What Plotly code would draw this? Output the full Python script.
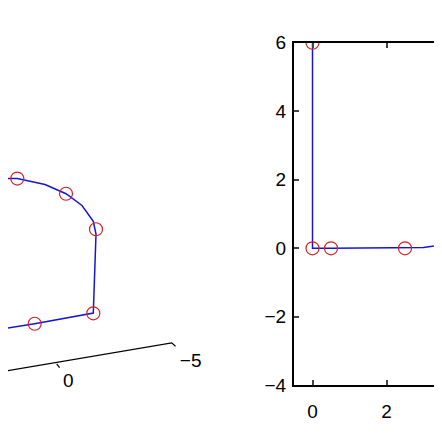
import plotly.graph_objects as go

# right panel: planar path (x, y)
path_x = [0, 0, 0.5, 2.5, 3.0, 3.6]
path_y = [6, 0, 0, 0, 0.02, 0.12]
way_x = [0, 0, 0.5, 2.5]
way_y = [6, 0, 0, 0]

# left panel: 3-D view, projected coordinates
curve_u = [-2, 17.3, 45, 66, 82, 93.3, 96, 93.3, 34.7, -2]
curve_v = [176.5, 176.7, 183, 192.7, 205, 221.7, 235, 318, 329.3, 335.5]
marker_u = [17.3, 66, 96, 93.3, 34.7]
marker_v = [176.7, 192.7, 230, 318.3, 329.3]
axis_u = [-2, 171.7, 175.5]
axis_v = [380.3, 349.3, 353]
tick0_u = [56.7, 59.6]
tick0_v = [371.5, 375.5]
tick_label_u = [68.3, 190.7, -3]
tick_label_v = [391, 370, 425]
tick_labels = ["0", "\u22125", "0"]

BLUE = "#1515d8"
RED = "#d82020"
FONT = dict(family="Liberation Sans, Arial, sans-serif", size=19, color="black")

# the page body has an 8px margin, so the figure is 434px and shifted by 8
PAD = 8
W = 442 - PAD

fig = go.Figure()

fig.add_trace(go.Scatter(x=curve_u, y=curve_v, mode="lines", cliponaxis=False,
                         line=dict(color=BLUE, width=1.5),
                         xaxis="x2", yaxis="y2", showlegend=False))
fig.add_trace(go.Scatter(x=marker_u, y=marker_v, mode="markers",
                         marker=dict(symbol="circle-open", size=13,
                                     line=dict(color=RED, width=1.2), color=RED),
                         xaxis="x2", yaxis="y2", showlegend=False))
fig.add_trace(go.Scatter(x=axis_u, y=axis_v, mode="lines", cliponaxis=False,
                         line=dict(color="black", width=1.2),
                         xaxis="x2", yaxis="y2", showlegend=False))
fig.add_trace(go.Scatter(x=tick0_u, y=tick0_v, mode="lines",
                         line=dict(color="black", width=1.2),
                         xaxis="x2", yaxis="y2", showlegend=False))
fig.add_trace(go.Scatter(x=tick_label_u, y=tick_label_v, mode="text",
                         text=tick_labels, textfont=FONT, cliponaxis=False,
                         xaxis="x2", yaxis="y2", showlegend=False))

fig.add_trace(go.Scatter(x=path_x, y=path_y, mode="lines",
                         line=dict(color=BLUE, width=1.5), showlegend=False))
fig.add_trace(go.Scatter(x=way_x, y=way_y, mode="markers",
                         marker=dict(symbol="circle-open", size=13,
                                     line=dict(color=RED, width=1.2), color=RED),
                         showlegend=False))

fig.update_layout(
    width=W, height=W,
    margin=dict(l=0, r=0, t=0, b=0),
    paper_bgcolor="white", plot_bgcolor="white",
    font=FONT,
    xaxis=dict(domain=[(294 - PAD) / W, 1], range=[-0.5, 3.5],
               tickvals=[0, 2], ticks="inside", ticklen=5, tickwidth=1.5,
               showline=True, linewidth=2, linecolor="black", mirror="ticks",
               showgrid=False, zeroline=False, ticklabelstandoff=8),
    yaxis=dict(domain=[1 - (394 - PAD) / W, 1 - (34 - PAD) / W], range=[-4, 6],
               tickvals=[-4, -2, 0, 2, 4, 6], ticks="inside", ticklen=5, tickwidth=1.5,
               showline=True, linewidth=2, linecolor="black",
               showgrid=False, zeroline=False, ticklabelstandoff=2),
    xaxis2=dict(domain=[0, (265 - PAD) / W], range=[PAD, 265], visible=False),
    yaxis2=dict(domain=[0, 1], range=[442, PAD], visible=False),
)

fig.write_html("out.html")
